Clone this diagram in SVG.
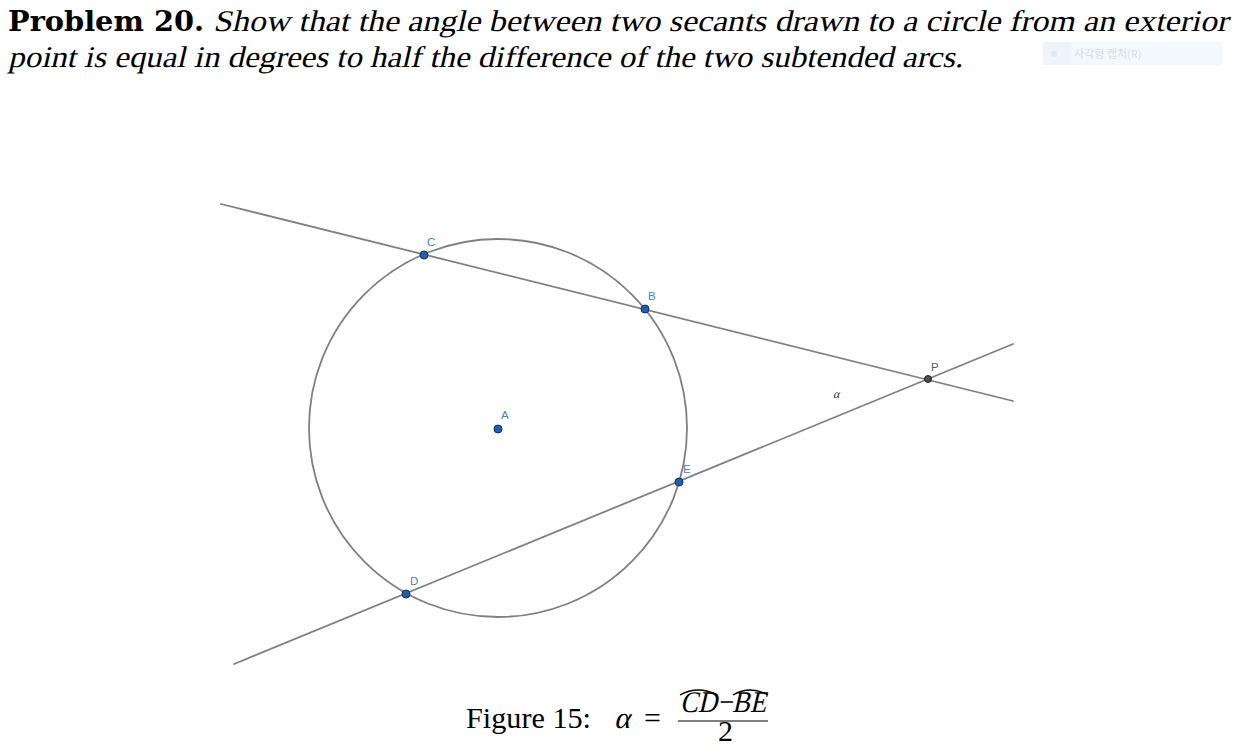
<svg xmlns="http://www.w3.org/2000/svg" width="1237" height="754" viewBox="0 0 1237 754">
<style>
.ln{stroke:#808080;stroke-width:1.8;fill:none;stroke-linecap:round}
.pt{fill:#1f5fb5;stroke:#0b2f66;stroke-width:1}
.lb{font-family:"Liberation Sans",Arial,sans-serif;font-size:11.5px;fill:#4a80c4}
.tt{font-family:"Liberation Serif","Times New Roman",serif;font-size:30px;fill:#000}
.bd{font-family:"DejaVu Serif",serif;font-weight:bold;font-size:28px;fill:#000}
</style>
<rect width="1237" height="754" fill="#fff"/>
<g id="title">
<text class="bd" x="8" y="31" textLength="196" lengthAdjust="spacingAndGlyphs">Problem 20.</text>
<text class="tt" transform="translate(213,31) skewX(-13)" x="0" y="0" textLength="1015" lengthAdjust="spacingAndGlyphs">Show that the angle between two secants drawn to a circle from an exterior</text>
<text class="tt" transform="translate(8,67) skewX(-13)" x="0" y="0" textLength="955" lengthAdjust="spacingAndGlyphs">point is equal in degrees to half the difference of the two subtended arcs.</text>
</g>
<g id="capture-button">
<rect x="1043" y="42" width="179" height="23" fill="#f3f8fd"/>
<rect x="1043" y="42" width="28" height="23" fill="#eef4fb"/>
<circle cx="1054" cy="54" r="3" fill="#e3e8ee"/>
<text x="1074" y="58" font-family="'Noto Sans CJK KR','Noto Sans',sans-serif" font-size="11" fill="#d6dde5">사각형 캡처(R)</text>
</g>
<g id="connectors">
<line class="ln" x1="221" y1="204" x2="1013" y2="401"/>
<line class="ln" x1="234" y1="664" x2="1013" y2="344"/>
</g>
<g id="circle">
<circle class="ln" cx="498" cy="428" r="189"/>
</g>
<g id="node-A"><circle class="pt" cx="498" cy="429" r="4"/><text class="lb" x="501" y="419">A</text></g>
<g id="node-C"><circle class="pt" cx="424" cy="255" r="4"/><text class="lb" x="427" y="246">C</text></g>
<g id="node-B"><circle class="pt" cx="645" cy="309" r="4"/><text class="lb" x="648" y="300">B</text></g>
<g id="node-E"><circle class="pt" cx="679" cy="482" r="4"/><text class="lb" x="683" y="473">E</text></g>
<g id="node-D"><circle class="pt" cx="406" cy="594" r="4"/><text class="lb" x="410" y="585">D</text></g>
<g id="node-P"><circle cx="928" cy="379" r="3.5" fill="#505050" stroke="#222" stroke-width="1"/><text class="lb" x="931" y="371" style="fill:#5a5a5a">P</text></g>
<g id="alpha"><text transform="translate(833,398) skewX(-13)" x="0" y="0" font-family="'Liberation Serif',serif" font-size="12" fill="#333">α</text></g>
<g id="caption">
<text class="tt" x="466" y="728" textLength="125" lengthAdjust="spacingAndGlyphs">Figure 15:</text>
<text class="tt" transform="translate(614,728) skewX(-13)" x="0" y="0">α</text>
<text class="tt" x="644" y="728">=</text>
<text class="tt" font-size="20" transform="translate(680,712) skewX(-13)" x="0" y="0" textLength="86" lengthAdjust="spacingAndGlyphs">CD−BE</text>
<path d="M680,695 Q698,685 717,695" fill="none" stroke="#000" stroke-width="1.4"/>
<path d="M733,695 Q750,685 768,695" fill="none" stroke="#000" stroke-width="1.4"/>
<line x1="678" y1="721" x2="768" y2="721" stroke="#000" stroke-width="1.2"/>
<text class="tt" x="718" y="741" font-size="20">2</text>
</g>
</svg>
